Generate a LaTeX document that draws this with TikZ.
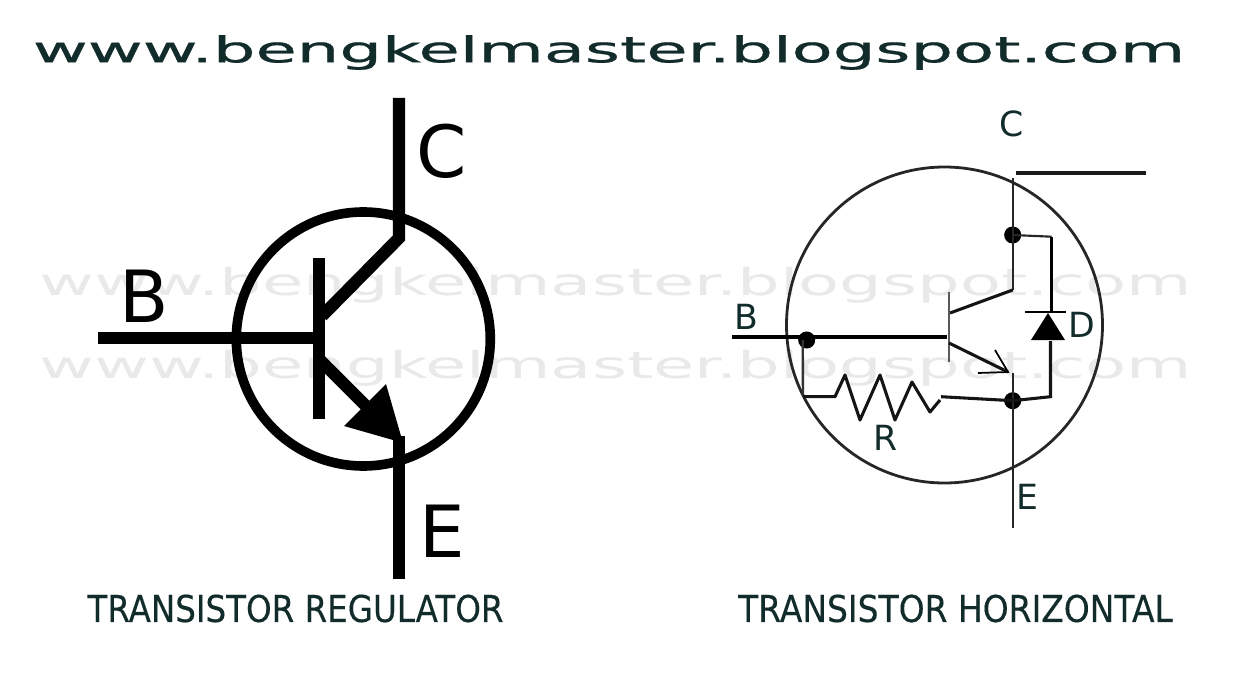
\documentclass[tikz,border=0pt]{standalone}
\usepackage{fontspec}
\setmainfont{DejaVu Sans}
\newfontfamily\titlefont[FakeBold=0.6]{DejaVu Sans}
\newfontfamily\capfont[FakeBold=0.25]{DejaVu Sans}
\definecolor{ink}{HTML}{122B2B}
\definecolor{wm}{HTML}{E9E9E9}
\newcommand{\fitbox}[3]{\resizebox*{#1pt}{#2pt}{#3}}
\tikzset{
  txt/.style={inner sep=0pt,outer sep=0pt},
  heavy/.style={line width=9.2pt,black},
  midline/.style={line width=2.3pt,black!92},
  fineline/.style={line width=1.6pt,black!85},
  bulb/.style={circle,fill=black,inner sep=0pt,minimum size=12.8pt},
  lblA/.style={txt,font=\fontsize{54}{54}\selectfont,text=black},
  lblB/.style={txt,font=\fontsize{26}{26}\selectfont,text=ink},
}
\begin{document}
\begin{tikzpicture}[x=0.75pt,y=-0.75pt]
\useasboundingbox (0,0) rectangle (1243,699);
% texts behind
\node[txt,text=ink] (title) at (609,52.5) {\fitbox{864}{26}{\titlefont www.bengkelmaster.blogspot.com}};
\node[txt,text=wm] (wm1) at (616,285) {\fitbox{864}{27}{www.bengkelmaster.blogspot.com}};
\node[txt,text=wm] (wm2) at (616,368.5) {\fitbox{864}{27}{www.bengkelmaster.blogspot.com}};
\node[txt,text=ink] (cap1) at (295.5,608.5) {\fitbox{312}{21}{\capfont TRANSISTOR REGULATOR}};
\node[txt,text=ink] (cap2) at (955.5,608.5) {\fitbox{326}{21}{\capfont TRANSISTOR HORIZONTAL}};
% left symbol
\node[circle,draw=black,line width=7.2pt,minimum size=190.5pt,inner sep=0pt,outer sep=0pt] (ringA) at (363.3,339) {};
\coordinate (cTop) at (399,98);
\coordinate (cBend) at (399,238);
\coordinate (cBar) at (322,316);
\coordinate (bEnd) at (98,338);
\coordinate (bJoin) at (319,338);
\coordinate (barT) at (319,258);
\coordinate (barB) at (319,419);
\coordinate (eBar) at (319,359);
\coordinate (eTip) at (392,432);
\coordinate (eTop) at (399,436);
\coordinate (eEnd) at (399,579);
\draw[heavy,miter limit=3] (cTop) -- (cBend) -- (cBar);
\draw[heavy] (bEnd) -- (bJoin);
\draw[heavy] (barT) -- (barB);
\draw[heavy] (eBar) -- (eTip);
\draw[heavy] (eTop) -- (eEnd);
\fill[black] (386,384) -- (401,436) -- (393,440) -- (344,426) -- cycle;
\node[lblA] (lC) at (442,151) {C};
\node[lblA] (lB) at (144,296) {B};
\node[lblA] (lE) at (442,531.5) {E};
% right symbol
\node[circle,draw=black!85,line width=2.1pt,minimum size=237pt,inner sep=0pt,outer sep=0pt] (ringB) at (944.5,325) {};
\coordinate (rcTop) at (1012.7,178);
\coordinate (rcBend) at (1012.7,290);
\coordinate (rcBar) at (950,313);
\coordinate (hS) at (1016,173);
\coordinate (hE) at (1146,173);
\coordinate (rb0) at (732,336.7);
\coordinate (rb1) at (947,336.7);
\coordinate (tT) at (949,292);
\coordinate (tB) at (949,362);
\coordinate (reBar) at (949,343);
\coordinate (reTip) at (1008,372);
\coordinate (reLead) at (1012.7,373);
\coordinate (reEnd) at (1012.7,528);
\node[bulb] (dotC) at (1012.7,235) {};
\node[bulb] (dotE) at (1012.7,400.7) {};
\node[bulb] (dotB) at (806.7,340) {};
\draw[line width=3.6pt,black!90] (hS) -- (hE);
\draw[fineline] (rcTop) -- (rcBend);
\draw[midline] (rcBend) -- (rcBar);
\draw[line width=2.7pt] (rb0) -- (rb1);
\draw[line width=1.8pt,black!65] (tT) -- (tB);
\draw[midline] (reBar) -- (reTip);
\draw[line width=1.3pt] (995,350) -- (reTip) -- (978,373);
\draw[fineline] (reLead) -- (reEnd);
\draw[fineline] (dotC.center) -- (1051.7,236.7);
\draw[line width=2.5pt] (1051.7,236.7) -- (1051.7,312);
\draw[line width=1.9pt] (1025,312) -- (1066,312);
\fill[black] (1048,313) -- (1065,340) -- (1031,340) -- cycle;
\draw[midline] (1050.5,341) -- (1050.5,396.7) -- (dotE.center);
\draw[line width=1.8pt,black!80] (dotB.center) ++(-4,0) -- (803,396.7);
\draw[midline,line join=round] (803,396.7) -- (835,396.7)
  -- (845,375) -- (860,420) -- (880,375) -- (895,420) -- (912,382) -- (930,412) -- (940,400);
\draw[midline] (941,396.7) -- (dotE.center);
\node[lblB] (rC) at (1011.5,124) {C};
\node[lblB] (rB) at (746,317) {B};
\node[lblB] (rD) at (1082,325) {D};
\node[lblB] (rR) at (886,438) {R};
\node[lblB] (rE) at (1027,497) {E};
\end{tikzpicture}
\end{document}
